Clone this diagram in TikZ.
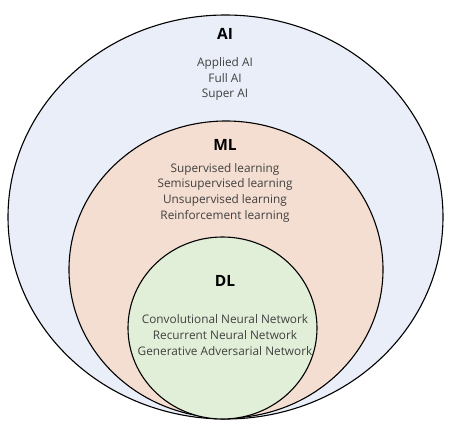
\documentclass[tikz,border=0pt]{standalone}
\usepackage{fontspec}
\setmainfont{Open Sans}
\definecolor{aifill}{HTML}{E9EEF8}
\definecolor{mlfill}{HTML}{F4DDD1}
\definecolor{dlfill}{HTML}{E2EFD8}
\definecolor{txt}{HTML}{404040}
\begin{document}
\begin{tikzpicture}[x=1pt,y=1pt,
  ring/.style={draw=black,line width=1.1pt},
  head/.style={font=\fontsize{15.5}{18}\selectfont\bfseries,text=black},
  items/.style={font=\fontsize{11.8}{15.7}\selectfont,text=txt,align=center}]
\useasboundingbox (0,0) rectangle (450,424);
\fill[white] (0,0) rectangle (450,424);
\draw[ring,fill=aifill] (225.5,207) ellipse [x radius=217.5, y radius=202];
\draw[ring,fill=mlfill] (226,154.5) ellipse [x radius=157, y radius=148.5];
\draw[ring,fill=dlfill] (222.5,96) ellipse [x radius=94.5, y radius=91];
\node[head] (ai) at (225,390) {AI};
\node[items] (ailist) at (225,345) {Applied AI\\Full AI\\Super AI};
\node[head] (ml) at (225,279) {ML};
\node[items] (mllist) at (225,231.5) {Supervised learning\\Semisupervised learning\\Unsupervised learning\\Reinforcement learning};
\node[head] (dl) at (225,143) {DL};
\node[items] (dllist) at (225,89) {Convolutional Neural Network\\Recurrent Neural Network\\Generative Adversarial Network};
\end{tikzpicture}
\end{document}
